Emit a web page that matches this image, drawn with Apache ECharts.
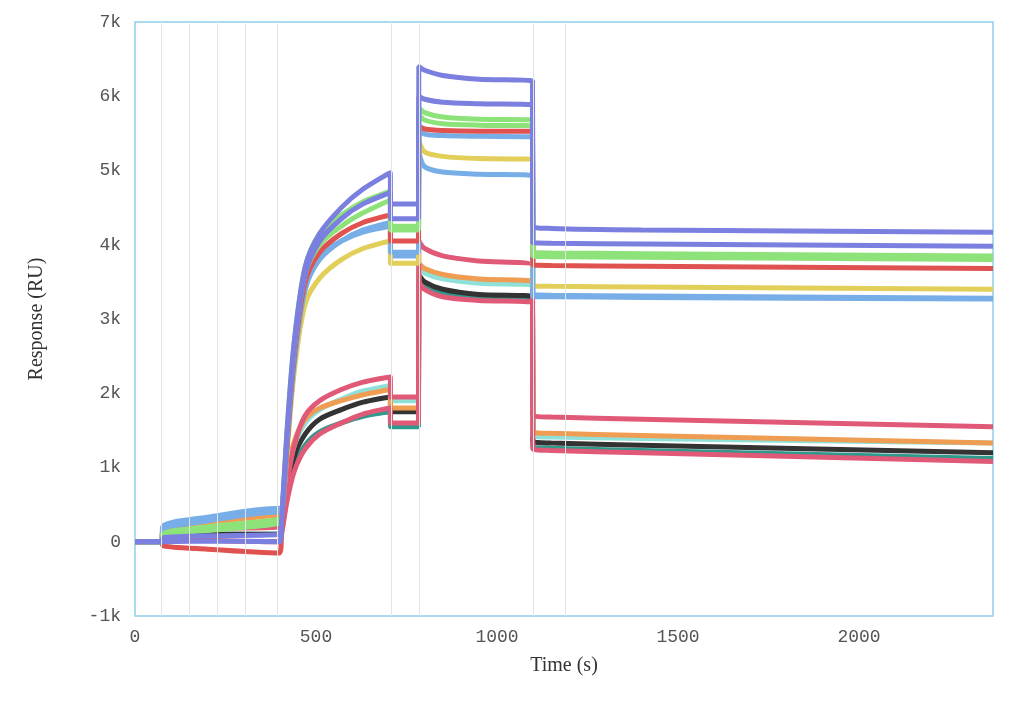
<!DOCTYPE html>
<html><head><meta charset="utf-8">
<script src="https://cdn.jsdelivr.net/npm/echarts@6/dist/echarts.min.js"></script>
<style>html,body{margin:0;background:#fff}#c{width:1024px;height:711px}</style>
</head><body><div id="c"></div>
<script>
const times=[0,75,76,200,400,405,420,440,470,510,570,630,705,706,783,784,800,850,950,1098,1099,1150,1400,2370];
const purpleA=[0,0,50,80,100,300,1500,2700,3700,4150,4500,4750,4970,4550,4550,6400,6350,6280,6230,6200,4250,4220,4200,4170];
const purpleB=[0,0,0,10,0,250,1400,2600,3600,4050,4350,4550,4700,4350,4350,6000,5960,5920,5900,5880,4030,4020,4010,3980];
const greenC=[0,0,100,200,300,350,1500,2700,3700,4150,4400,4580,4720,4250,4250,5850,5780,5720,5690,5680,3900,3890,3880,3850];
const greenD=[0,0,80,150,250,330,1400,2600,3600,4000,4250,4430,4600,4200,4200,5750,5680,5630,5610,5600,3850,3840,3830,3800];
const redE=[0,0,-50,-100,-150,200,1300,2500,3500,3900,4150,4300,4400,4050,4050,5600,5560,5540,5530,5530,3730,3720,3710,3680];
const blueF=[0,0,200,330,450,450,1300,2400,3400,3850,4050,4170,4250,3900,3900,5550,5490,5470,5460,5450,3300,3300,3290,3270];
const yellowH=[0,0,100,200,300,350,1200,2300,3200,3550,3800,3950,4050,3750,3750,5400,5250,5190,5160,5150,3450,3440,3430,3400];
const blueG=[0,0,150,280,400,400,1300,2400,3400,3800,4050,4200,4300,3850,3850,5250,5050,4980,4950,4930,3330,3320,3310,3280];
const pinkI=[0,0,150,180,200,250,800,1300,1700,1900,2050,2150,2220,1950,1950,4050,3950,3850,3780,3720,1700,1680,1650,1550];
const orangeJ=[0,0,150,250,350,350,900,1350,1650,1800,1900,1980,2050,1800,1800,3750,3680,3600,3540,3500,1480,1460,1430,1330];
const cyanK=[0,0,120,200,250,300,850,1300,1600,1780,1920,2030,2100,1900,1900,3700,3620,3540,3480,3450,1420,1410,1390,1330];
const blackL=[0,0,100,100,100,200,700,1150,1450,1650,1780,1880,1950,1750,1750,3600,3500,3400,3330,3300,1350,1330,1300,1200];
const tealM=[0,0,100,100,100,150,600,1000,1300,1480,1600,1690,1750,1550,1550,3550,3450,3350,3300,3280,1280,1260,1230,1120];
const pinkN=[0,0,50,20,0,100,550,950,1250,1450,1600,1720,1800,1600,1600,3500,3400,3300,3250,3220,1250,1230,1200,1080];
const gridTimes=[72,149,226,304,392,707,785,1099,1188];
const defs=[[tealM,'#2e9a8e'],[blackL,'#333333'],[cyanK,'#8ee0d8'],[orangeJ,'#ef9d52'],[pinkN,'#e05a78'],[pinkI,'#e05a78'],
[blueG,'#78aee8'],[yellowH,'#e2cf5a'],[blueF,'#78aee8'],[redE,'#e0524f'],[greenD,'#8ee27a'],[greenC,'#8ee27a'],[purpleB,'#7b7fe0'],[purpleA,'#7b7fe0']];
const series=defs.map((d,i)=>({type:'line',showSymbol:false,smooth:0.3,data:times.map((t,j)=>[t,d[0][j]]),
 lineStyle:{width:5,color:d[1]},itemStyle:{color:d[1]},z:3,
 markLine:i===0?{silent:true,symbol:'none',label:{show:false},lineStyle:{color:'#e4e4e4',width:1,type:'solid'},data:gridTimes.map(x=>({xAxis:x}))}:undefined}));
const ch=echarts.init(document.getElementById('c'));
ch.setOption({animation:false,
grid:{left:135,right:31,top:22,bottom:95,show:true,borderColor:'#8ccfe8',borderWidth:1.5},
xAxis:{type:'value',min:0,max:2370,interval:500,name:'Time (s)',nameLocation:'middle',nameGap:40,
 nameTextStyle:{fontFamily:'Liberation Serif',fontSize:20,color:'#333'},
 axisLine:{show:false},axisTick:{show:false},splitLine:{show:false},
 axisLabel:{fontFamily:'Liberation Mono',fontSize:18,color:'#555',margin:12,formatter:v=>v>2300?'':v}},
yAxis:{type:'value',min:-1000,max:7000,interval:1000,name:'Response (RU)',nameLocation:'middle',nameGap:88,
 nameTextStyle:{fontFamily:'Liberation Serif',fontSize:20,color:'#333'},
 axisLine:{show:false},axisTick:{show:false},splitLine:{show:false},
 axisLabel:{fontFamily:'Liberation Mono',fontSize:18,color:'#555',margin:14,formatter:v=>v===0?'0':(v/1000)+'k'}},
series});
</script></body></html>
